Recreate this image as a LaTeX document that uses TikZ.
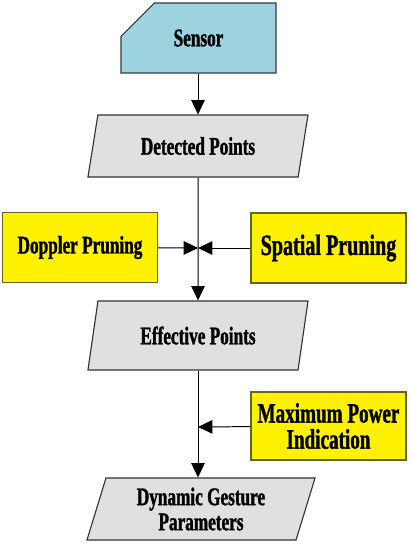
\documentclass[tikz,border=0pt]{standalone}
\usepackage{fontspec}
\setmainfont[FakeStretch=0.68, BoldFeatures={FakeBold=1.3}]{Liberation Serif}
\usepackage{tikz}
\usetikzlibrary{arrows.meta, shapes.geometric, shapes.misc}
\definecolor{sensorblue}{RGB}{157,211,223}
\definecolor{pointgray}{RGB}{224,224,224}
\definecolor{pruneedge}{RGB}{100,100,40}

\begin{document}
\begin{tikzpicture}[
    x=0.025cm, y=-0.025cm,
    every node/.style={font=\bfseries\fontsize{18}{18}\selectfont},
    sensor/.style={draw=black!70!sensorblue, thick, fill=sensorblue,
                   chamfered rectangle, chamfered rectangle corners=north west,
                   chamfered rectangle xsep=7.5mm, chamfered rectangle ysep=8.5mm,
                   minimum width=38.75mm, minimum height=17.5mm, inner sep=0pt},
    points/.style={draw=black!80, thick, fill=pointgray, trapezium,
                   trapezium left angle=70, trapezium right angle=110,
                   trapezium stretches body, minimum width=55mm, align=center},
    prune/.style={draw=pruneedge, thick, fill=yellow,
                  minimum width=38.75mm, minimum height=17.5mm, align=center},
    flow/.style={line width=0.7pt, -{Triangle[length=3.6mm, width=3.4mm]}},
]

\useasboundingbox (0,0) rectangle (411,547);

% --- Sensor and point sets -------------------------------------------
\node[sensor] (sensor) at (198.5, 38) {Sensor};
\node[points, minimum height=15.5mm] (detected) at (198, 146) {Detected Points};
\node[points, minimum height=17.25mm] (effective) at (198, 335.5) {Effective Points};
\node[points, minimum height=15.5mm, minimum width=57mm,
      font=\bfseries\fontsize{18}{17.8}\selectfont]
    (gesture) at (201, 509) {Dynamic Gesture\\Parameters};

% --- Pruning / selection steps ----------------------------------------
\node[prune] (doppler) at (80, 247.5) {Doppler Pruning};
\node[prune, font=\bfseries\fontsize{21}{21}\selectfont] (spatial) at (328.5, 248) {Spatial Pruning};
\node[prune, minimum height=17mm, font=\bfseries\fontsize{20}{18.5}\selectfont]
    (power) at (328.5, 426) {Maximum Power\\Indication};

% Junctions on the main line
\coordinate (jprune) at (198, 248);
\coordinate (jpower) at (198, 427);

% --- Main flow -----------------------------------------------------
\draw[flow] (sensor.south -| detected.north) -- (detected.north);
\draw[flow] (detected.south) -- (effective.north);
\draw[flow] (effective.south) -- (effective.south |- gesture.north);

% --- Side inputs ---------------------------------------------------
\draw[flow] (doppler) -- (jprune);
\draw[flow] (spatial) -- (jprune);
\draw[flow] (power) -- (jpower);

\end{tikzpicture}
\end{document}
